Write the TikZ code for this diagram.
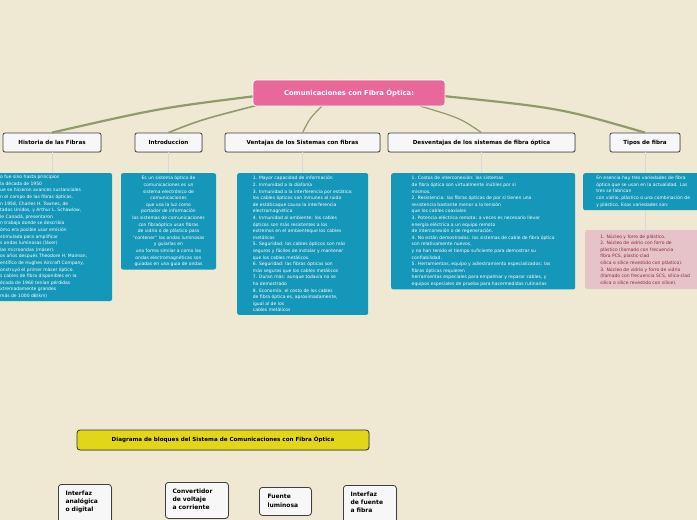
\documentclass[tikz,border=0pt]{standalone}
\usepackage{fontspec}
\setmainfont{DejaVu Sans}
\usetikzlibrary{shadows}
\definecolor{bg}{HTML}{EFE8D3}
\definecolor{pinkm}{HTML}{E8689A}
\definecolor{blueb}{HTML}{1597BA}
\definecolor{pinkb}{HTML}{E6C3C8}
\definecolor{redt}{HTML}{8A2A3A}
\definecolor{olive}{HTML}{8E9C6C}
\definecolor{yel}{HTML}{E3D518}
\tikzset{
 hdr/.style={draw=black!75,line width=0.8pt,rounded corners=2pt,fill=gray!6,font=\fontsize{5.6}{7}\selectfont\bfseries,inner sep=0pt,drop shadow={shadow xshift=0.6pt,shadow yshift=-0.6pt,opacity=0.4}},
 bluebox/.style={fill=blueb,rounded corners=2pt,text=white,font=\fontsize{4.5}{6.6}\selectfont,inner sep=2pt,align=left,anchor=north west},
 link/.style={olive,line width=1.6pt},
 vline/.style={draw=black!15,line width=0.6pt},
 blk/.style={draw=black!75,line width=0.8pt,rounded corners=3pt,fill=gray!6,font=\fontsize{6}{8.3}\selectfont\bfseries,align=left,inner sep=0pt,anchor=north west,drop shadow={shadow xshift=0.6pt,shadow yshift=-0.6pt,opacity=0.4}}
}
\begin{document}
\begin{tikzpicture}[x=1pt,y=-1pt]
\useasboundingbox (0,0) rectangle (697,520);
\fill[bg] (0,0) rectangle (697,520);
\clip (0,0) rectangle (697,520);
% headers
\node[hdr,minimum width=98pt,minimum height=19pt] (h1) at (52,142.5) {Historia de las Fibras};
\node[hdr,minimum width=67pt,minimum height=19pt] (h2) at (168.5,142.5) {Introduccion};
\node[hdr,minimum width=155pt,minimum height=19pt] (h3) at (302.5,142.5) {Ventajas de los Sistemas con fibras};
\node[hdr,minimum width=187pt,minimum height=19pt] (h4) at (481.5,142.5) {Desventajas de los sistemas de fibra óptica};
\node[hdr,minimum width=70pt,minimum height=19pt] (h5) at (645,142.5) {Tipos de fibra};
% connectors
\coordinate (m1) at (256,96); \coordinate (m2) at (262,104);
\coordinate (m3) at (322,106); \coordinate (m4) at (420,106); \coordinate (m5) at (443,96);
\draw[link,line width=2.2pt] (m1) .. controls (160,108) .. (h1.north);
\draw[link] (m2) .. controls (200,120) .. (h2.north);
\draw[link,line width=1.2pt] (m3) .. controls (310,118) .. (h3.north);
\draw[link,line width=1.2pt] (m4) .. controls (460,118) .. (h4.north);
\draw[link,line width=2.2pt] (m5) .. controls (560,108) .. (h5.north);
\node[fill=pinkm,draw=white,line width=0.8pt,rounded corners=3pt,minimum width=192pt,minimum height=26pt,text=white,font=\fontsize{6.8}{8}\selectfont\bfseries] (main) at (349,93) {Comunicaciones con Fibra Óptica:};
% vertical lines
\draw[vline] (h1.south) -- (52,173);
\draw[vline] (h2.south) -- (168.5,173);
\draw[vline] (h3.south) -- (302.5,173);
\draw[vline] (h4.south) -- (481.5,173);
\draw[vline] (h5.south) -- (645,230);
% blue boxes
\fill[blueb,rounded corners=2pt] (-5,173) rectangle (112,301);
\node[bluebox,anchor=north west,fill=none] (b1) at (-2,173) {o fue sino hasta principios\\la década de 1950\\ue se hicieron avances sustanciales\\n el campo de las fibras ópticas.\\n 1958, Charles H. Townes, de\\tados Unidos, y Arthur L. Schawlow,\\le Canadá, presentaron\\n trabajo donde se describía\\ómo era posible usar emisión\\stimulada para amplificar\\s ondas luminosas (láser)\\ las microondas (máser).\\os años después Theodore H. Maiman,\\entífico de Hughes Aircraft Company,\\onstruyó el primer máser óptico.\\s cables de fibra disponibles en la\\écada de 1960 tenían pérdidas\\xtremadamente grandes\\más de 1000 dB/km)};
\node[bluebox,anchor=north,align=center,minimum width=95pt,minimum height=95pt,inner sep=3pt] (b2) at (168.5,173) {Es un sistema óptico de\\comunicaciones es un\\sistema electrónico de\\comunicaciones\\que usa la luz como\\portador de información\\los sistemas de comunicaciones\\con fibraóptica usan fibras\\de vidrio o de plástico para\\“contener” las ondas luminosas\\y guiarlas en\\una forma similar a como las\\ondas electromagnéticas son\\guiadas en una guía de ondas};
\node[bluebox,minimum width=131pt,minimum height=140pt,inner sep=3pt] (b3) at (237,173) {1. Mayor capacidad de información\\2. Inmunidad a la diafonía\\3. Inmunidad a la interferencia por estática:\\ los cables ópticos son inmunes al ruido\\ de estáticaque causa la interferencia\\ electromagnética\\4. Inmunidad al ambiente: los cables\\ ópticos son más resistentes a los\\extremos en el ambienteque los cables\\metálicos\\5. Seguridad: los cables ópticos son más\\ seguros y fáciles de instalar y mantener\\que los cables metálicos.\\6. Seguridad: las fibras ópticas son\\más seguras que los cables metálicos\\7. Duran más: aunque todavía no se\\ ha demostrado\\8. Economía: el costo de los cables\\de fibra óptica es, aproximadamente,\\igual al de los\\cables metálicos};
\node[bluebox,minimum width=184pt,minimum height=116pt,inner sep=3pt] (b4) at (391,173) {1. Costos de interconexión: los sistemas\\de fibra óptica son virtualmente inútiles por sí\\mismos.\\2. Resistencia: las fibras ópticas de por sí tienen una\\resistencia bastante menor a la tensión\\que los cables coaxiales\\3. Potencia eléctrica remota: a veces es necesario llevar\\energía eléctrica a un equipo remoto\\de interconexión o de regeneración.\\4. No están demostrados: los sistemas de cable de fibra óptica\\son relativamente nuevos,\\y no han tenido el tiempo suficiente para demostrar su\\confiabilidad.\\5. Herramientas, equipo y adiestramiento especializados: las\\fibras ópticas requieren\\herramientas especiales para empalmar y reparar cables, y\\equipos especiales de prueba para hacermedidas rutinarias};
\node[bluebox,minimum width=120pt,minimum height=37pt,inner sep=3pt] (b5) at (583,173) {En esencia hay tres variedades de fibra\\óptica que se usan en la actualidad. Las\\tres se fabrican\\con vidrio, plástico o una combinación de\\y plástico. Esas variedades son:};
\node[bluebox,fill=pinkb,text=redt,minimum width=120pt,minimum height=59pt,inner sep=3pt] (p5) at (585,230) {1. Núcleo y forro de plástico.\\2. Núcleo de vidrio con forro de\\ plástico (llamado con frecuencia\\fibra PCS, plastic-clad\\silica o sílice revestido con plástico).\\3. Núcleo de vidrio y forro de vidrio\\ (llamado con frecuencia SCS, silica-clad\\ silica o sílice revestido con sílice).};
% yellow
\node[fill=yel,draw=black!80,line width=0.8pt,rounded corners=3pt,minimum width=292pt,minimum height=20pt,font=\fontsize{5.6}{7}\selectfont\bfseries,drop shadow={shadow xshift=0.6pt,shadow yshift=-0.6pt,opacity=0.4}] (y) at (223,440) {Diagrama de bloques del Sistema de Comunicaciones con Fibra Óptica};
% bottom blocks
\node[blk,minimum width=53pt,minimum height=40pt] (k1) at (58,484) {};
\node[font=\fontsize{6}{8.3}\selectfont\bfseries,align=left,anchor=north west] at (62,487) {Interfaz\\analógica\\o digital};
\node[blk,minimum width=63pt,minimum height=36pt] (k2) at (165,482) {};
\node[font=\fontsize{6}{8.3}\selectfont\bfseries,align=left,anchor=north west] at (169,485) {Convertidor\\de voltaje\\a corriente};
\node[blk,minimum width=52pt,minimum height=28pt] (k3) at (259,487) {};
\node[font=\fontsize{6}{8.3}\selectfont\bfseries,align=left,anchor=north west] at (264,491) {Fuente\\luminosa};
\node[blk,minimum width=53pt,minimum height=40pt] (k4) at (343,485) {};
\node[font=\fontsize{6}{8.3}\selectfont\bfseries,align=left,anchor=north west] at (347,488) {Interfaz\\de fuente\\a fibra};
\end{tikzpicture}
\end{document}
